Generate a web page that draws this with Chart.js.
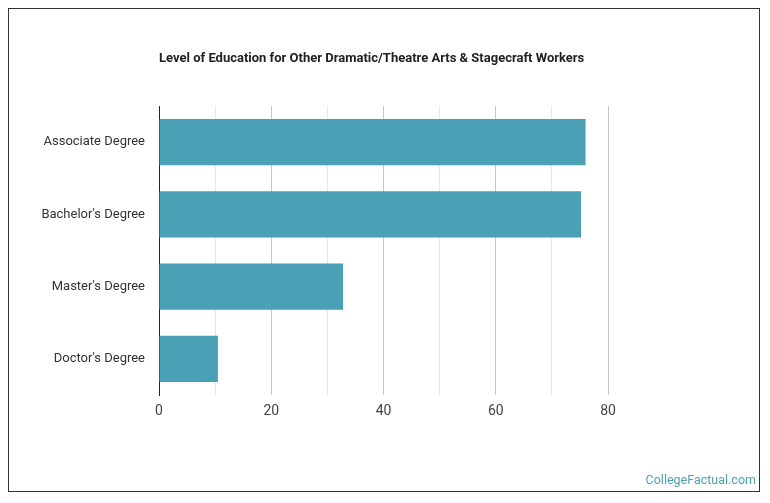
<!DOCTYPE html>
<html><head><meta charset="utf-8">
<script src="https://cdn.jsdelivr.net/npm/chart.js@4"></script>
<style>
body{margin:0;width:770px;height:503px;position:relative;background:#fff;font-family:Roboto,sans-serif}
#frame{position:absolute;left:8px;top:8px;width:752px;height:484px;border:1px solid #333;box-sizing:border-box}
#title{position:absolute;left:159px;top:49px;font-weight:bold;font-size:13px;line-height:18px;color:#222;width:430px}
#wm{position:absolute;right:14px;top:472px;font-size:12.5px;color:#4aa0b5}
canvas{position:absolute;left:0;top:0}
</style></head><body>
<div id="frame"></div>
<canvas id="c" width="770" height="503"></canvas>
<div id="title">Level of Education for Other Dramatic/Theatre Arts &amp; Stagecraft Workers</div>
<div id="wm">CollegeFactual.com</div>
<script>
const categories=["Associate Degree","Bachelor's Degree","Master's Degree","Doctor's Degree"];
const values=[76.0,75.2,32.8,10.5];
const tickLabels=[0,20,40,60,80];
new Chart(document.getElementById('c'),{
type:'bar',
data:{labels:categories,datasets:[{data:values,backgroundColor:'#4aa0b5',barPercentage:0.64,categoryPercentage:1}]},
options:{indexAxis:'y',responsive:false,animation:false,
layout:{padding:{top:106,right:162,bottom:0,left:0}},
plugins:{legend:{display:false},tooltip:{enabled:false}},
scales:{
x:{min:0,max:80,ticks:{stepSize:10,color:'#444',font:{family:'Roboto',size:14},padding:8,
 callback:(v)=>tickLabels.includes(v)?String(v):''},
 grid:{drawTicks:false,color:(c)=>c.tick&&c.tick.value%20===0?'#c8c8c8':'#e6e6e6'},
 border:{display:false},afterFit:(s)=>{s.height=108;}},
y:{ticks:{color:'#333',font:{family:'Roboto',size:13},padding:14},
 grid:{display:false,drawTicks:false},border:{display:true,color:'#222'},
 afterFit:(s)=>{s.width=159;}}
}}});
</script></body></html>
